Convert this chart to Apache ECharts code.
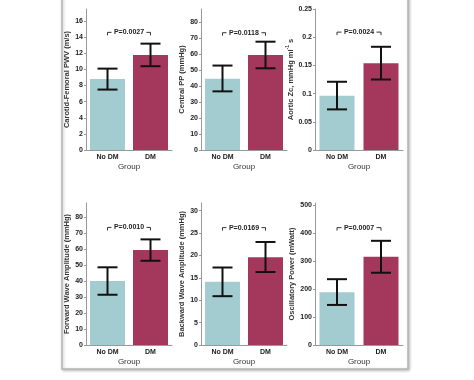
<!DOCTYPE html>
<html><head><meta charset="utf-8">
<script src="https://cdn.jsdelivr.net/npm/echarts@6/dist/echarts.min.js"></script>
<style>html,body{margin:0;padding:0;background:#fff}#c{width:474px;height:380px}</style>
</head><body><div id="c"></div>
<script>
const categories = ['No DM', 'DM'];
const yTitles = ['Carotid-Femoral PWV (m/s)', 'Central PP (mmHg)', 'Aortic Zc, mmHg ml{sup|-1} s',
  'Forward Wave Amplitude (mmHg)', 'Backward Wave Amplitude (mmHg)', 'Oscillatory Power (mWatt)'];
const noDM = [8.8, 44.5, 0.096, 40.1, 14.1, 188];
const noDMLow = [7.5, 36.6, 0.072, 31.5, 10.9, 143];
const noDMHigh = [10.1, 52.7, 0.121, 48.7, 17.3, 235];
const dm = [11.8, 59.3, 0.154, 59.5, 19.6, 315];
const dmLow = [10.4, 51.0, 0.125, 52.8, 16.3, 258];
const dmHigh = [13.2, 67.6, 0.183, 66.2, 23.0, 372];
const pLabels = ['P=0.0027', 'P=0.0118', 'P=0.0024', 'P=0.0010', 'P=0.0169', 'P=0.0007'];
const pY = [14.6, 73.2, 0.209, 73.7, 26.2, 419];
const yMax = [17.5, 88, 0.25, 89, 31.7, 507];
const yInterval = [2, 10, 0.05, 10, 5, 100];
const showTopLabel = [false, false, true, false, false, false];

const colors = ['#a2ccd0', '#a4385c'];
const gridPos = [
  {left: 86, top: 9, width: 86, height: 141},
  {left: 201, top: 9, width: 86, height: 141},
  {left: 315, top: 9, width: 88, height: 141},
  {left: 86, top: 203, width: 86, height: 142},
  {left: 201, top: 203, width: 86, height: 142},
  {left: 315, top: 203, width: 88, height: 142}
];
const font = 'Liberation Sans, Arial, sans-serif';
const grids = [], xAxes = [], yAxes = [], series = [];
for (let i = 0; i < 6; i++) {
  grids.push(Object.assign({}, gridPos[i]));
  xAxes.push({
    type: 'category', gridIndex: i, data: categories, name: 'Group',
    nameLocation: 'middle', nameGap: 13,
    nameTextStyle: {fontSize: 8, color: '#333', fontFamily: font},
    axisLine: {lineStyle: {color: '#999', width: 1}},
    axisTick: {show: false},
    axisLabel: {fontSize: 7, fontWeight: 'bold', color: '#222', margin: 4, fontFamily: font}
  });
  yAxes.push({
    type: 'value', gridIndex: i, min: 0, max: yMax[i], interval: yInterval[i],
    name: yTitles[i], nameLocation: 'middle', nameRotate: 90,
    nameGap: i === 2 || i === 5 ? 19 : 14,
    nameTextStyle: {fontSize: 7.5, fontWeight: 'bold', color: '#333', fontFamily: font,
      rich: {sup: {fontSize: 5, fontWeight: 'bold', color: '#333', verticalAlign: 'top', padding: [0, 0, 5, 0]}}},
    splitLine: {show: false},
    axisLine: {show: true, lineStyle: {color: '#999', width: 1}},
    axisTick: {show: true, length: 2, lineStyle: {color: '#999'}},
    axisLabel: {fontSize: 7, fontWeight: 'bold', color: '#222', margin: 3, showMaxLabel: showTopLabel[i], fontFamily: font}
  });
  series.push({
    type: 'bar', xAxisIndex: i, yAxisIndex: i, barWidth: 35,
    data: [
      {value: noDM[i], itemStyle: {color: colors[0]}},
      {value: dm[i], itemStyle: {color: colors[1]}}
    ],
    animation: false
  });
  series.push({
    type: 'custom', xAxisIndex: i, yAxisIndex: i, animation: false, z: 5,
    data: [[0, noDMLow[i], noDMHigh[i]], [1, dmLow[i], dmHigh[i]]],
    renderItem: function (params, api) {
      const lo = api.coord([api.value(0), api.value(1)]);
      const hi = api.coord([api.value(0), api.value(2)]);
      const w = 10;
      const st = {stroke: '#111', lineWidth: 2, fill: null};
      return {type: 'group', children: [
        {type: 'line', shape: {x1: lo[0], y1: lo[1], x2: hi[0], y2: hi[1]}, style: st},
        {type: 'line', shape: {x1: lo[0] - w, y1: lo[1], x2: lo[0] + w, y2: lo[1]}, style: st},
        {type: 'line', shape: {x1: hi[0] - w, y1: hi[1], x2: hi[0] + w, y2: hi[1]}, style: st}
      ]};
    }
  });
  const label = pLabels[i];
  series.push({
    type: 'custom', xAxisIndex: i, yAxisIndex: i, animation: false, z: 6,
    data: [[0, pY[i]]],
    renderItem: function (params, api) {
      const y = api.value(1);
      const a = api.coord([0, y]);
      const b = api.coord([1, y]);
      const mid = (a[0] + b[0]) / 2;
      const gap = 17.5;
      const st = {stroke: '#333', lineWidth: 1, fill: null};
      return {type: 'group', children: [
        {type: 'polyline', shape: {points: [[a[0], a[1] + 3], [a[0], a[1]], [mid - gap, a[1]]]}, style: st},
        {type: 'polyline', shape: {points: [[mid + gap, b[1]], [b[0], b[1]], [b[0], b[1] + 3]]}, style: st},
        {type: 'text', style: {text: label,
          x: mid, y: a[1], align: 'center', verticalAlign: 'middle',
          font: 'bold 7px ' + font, fill: '#222'}}
      ]};
    }
  });
}
const chart = echarts.init(document.getElementById('c'), null, {renderer: 'canvas'});
chart.setOption({
  backgroundColor: '#fff',
  animation: false,
  grid: grids, xAxis: xAxes, yAxis: yAxes, series: series,
  graphic: [{
    type: 'rect', z: -10, silent: true,
    shape: {x: 62, y: -6, width: 346, height: 375},
    style: {fill: '#fff', stroke: '#b5b5b5', lineWidth: 1.5,
      shadowBlur: 3, shadowColor: 'rgba(0,0,0,0.25)', shadowOffsetX: 1, shadowOffsetY: 1}
  }]
});
</script></body></html>
